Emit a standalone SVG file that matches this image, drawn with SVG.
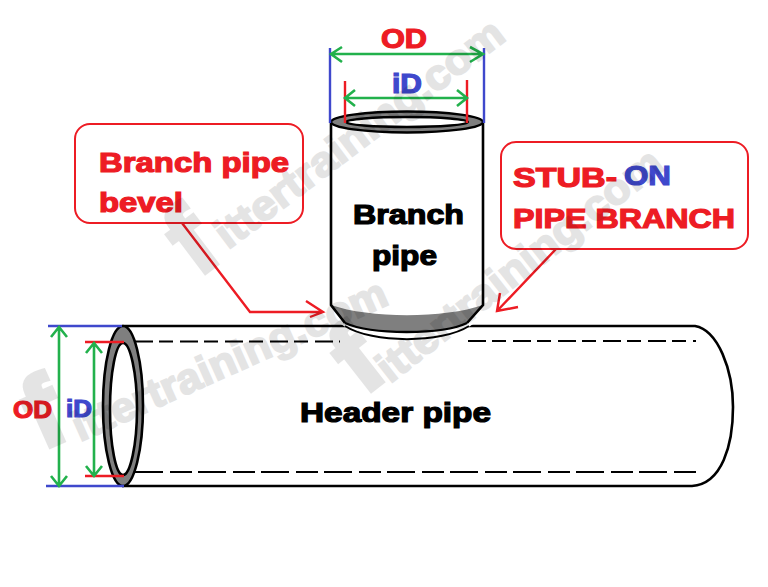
<svg xmlns="http://www.w3.org/2000/svg" width="768" height="587" viewBox="0 0 768 587">
<defs>
<style>
text{font-family:"Liberation Sans",Arial,sans-serif;font-weight:bold}
.wm{fill:#000;stroke:#000;stroke-width:2;opacity:.1;font-size:42px}
.wmf{fill:#000;stroke:#000;stroke-width:5;opacity:.1;font-size:100px}
.r{fill:#ed1c24;stroke:#ed1c24;stroke-width:1.2}
.b{fill:#3f48cc;stroke:#3f48cc;stroke-width:1.2}
.k{fill:#000;stroke:#000;stroke-width:1.2}
.pipe{fill:none;stroke:#000;stroke-width:2.6}
.dash{fill:none;stroke:#000;stroke-width:2}
.g{fill:none;stroke:#22b14c;stroke-width:2.6}
.rl{fill:none;stroke:#ed1c24;stroke-width:2.4}
.bl{fill:none;stroke:#3f48cc;stroke-width:2.4}
.box{fill:#fff;stroke:#ed1c24;stroke-width:2}
</style>
</defs>
<rect width="768" height="587" fill="#fff"/>
<g id="header-pipe">
<path class="pipe" d="M122 326H695C718 330 733 370 733 407C733 445 722 484 692 486H122"/>
<path class="dash" d="M135 341.500H340M468 341H696" stroke-dasharray="18 6 14 7"/>
<path class="dash" d="M135 472H696" stroke-dasharray="28 7 22 6"/>
<path d="M123 326C112 326 103 362 103 406C103 450 112 486 123 486C134 486 143 450 143 406C143 362 134 326 123 326ZM123 343C130 343 137 372 137 409C137 446 130 475 123 475C116 475 110 446 110 409C110 372 116 343 123 343Z" fill="#7f7f7f" fill-rule="evenodd" stroke="#000" stroke-width="2.600"/>
<text class="k" x="300" y="422" font-size="27" textLength="191" lengthAdjust="spacingAndGlyphs">Header pipe</text>
</g>
<g id="branch-pipe">
<path d="M345 325C372 344 442 344 469 325Z" fill="#fff" stroke="#fff" stroke-width="3"/>
<path d="M345 326C372 343.500 442 343.500 469 326" fill="none" stroke="#000" stroke-width="2"/>
<path d="M331 305L345 323C372 335 442 335 467 323L483 305C445 318.500 369 318.500 331 305Z" fill="#7f7f7f"/>
<path d="M345 323C372 335 442 335 467 323" fill="none" stroke="#000" stroke-width="2.400"/>
<path class="pipe" d="M331 122V305L345 323M483 122V305L467 323"/>
<ellipse cx="407" cy="122" rx="76" ry="10.500" fill="#7f7f7f" stroke="#000" stroke-width="2.400"/>
<ellipse cx="407" cy="122" rx="61" ry="5" fill="#fff" stroke="#000" stroke-width="2.400"/>
<text class="k" x="353" y="224" font-size="27" textLength="111" lengthAdjust="spacingAndGlyphs">Branch</text>
<text class="k" x="372" y="265" font-size="27" textLength="65" lengthAdjust="spacingAndGlyphs">pipe</text>
</g>
<g id="connectors">
<path class="bl" d="M330 48V123M484 48V123"/>
<path class="rl" d="M345 81V123M467 80V123"/>
<path class="g" d="M331 54H483M342 47L331 54L342 62M470 47L483 54L470 62"/>
<path class="g" d="M345 98H467M355 90L345 98L355 106M457 90L467 98L457 106"/>
<path class="bl" d="M48 326H122M46 486H124"/>
<path class="rl" d="M85 342H124M85 476H124"/>
<path class="g" d="M59 327V486M51 337L59 327L67 337M51 476L59 486L67 476"/>
<path class="g" d="M94 343V476M86 353L94 343L102 353M86 466L94 476L102 466"/>
<path class="rl" d="M182 223L250 312H323M306 301L323 312L310 317"/>
<path class="rl" d="M556 249L497 311M500 293L497 311L518 307"/>
</g>
<g id="label-bevel">
<rect class="box" x="75" y="124" width="228" height="99" rx="15"/>
<text class="r" x="99" y="172" font-size="27" textLength="190" lengthAdjust="spacingAndGlyphs">Branch pipe</text>
<text class="r" x="99" y="212" font-size="27" textLength="84" lengthAdjust="spacingAndGlyphs">bevel</text>
</g>
<g id="label-stub">
<rect class="box" x="501" y="142" width="247" height="107" rx="15"/>
<text class="r" x="513" y="187" font-size="27" textLength="104" lengthAdjust="spacingAndGlyphs">STUB-</text>
<text class="b" x="624" y="185" font-size="28" textLength="47" lengthAdjust="spacingAndGlyphs">ON</text>
<text class="r" x="513" y="228" font-size="27" textLength="222" lengthAdjust="spacingAndGlyphs">PIPE BRANCH</text>
</g>
<g id="dim-labels">
<text class="r" x="381" y="48" font-size="27" textLength="46" lengthAdjust="spacingAndGlyphs">OD</text>
<text class="b" x="392" y="93" font-size="27" textLength="30" lengthAdjust="spacingAndGlyphs">iD</text>
<text class="r" x="13" y="418" font-size="24" textLength="39" lengthAdjust="spacingAndGlyphs">OD</text>
<text class="b" x="66" y="417" font-size="24" textLength="26" lengthAdjust="spacingAndGlyphs">iD</text>
</g>
<g id="watermark">
<text class="wmf" transform="translate(198 278) rotate(-37)">f</text>
<text class="wm" transform="translate(228 250) rotate(-37)" textLength="350" lengthAdjust="spacingAndGlyphs">ittertraining.com</text>
<text class="wmf" transform="translate(364 396) rotate(-38)">f</text>
<text class="wm" transform="translate(390 384) rotate(-38)" textLength="350" lengthAdjust="spacingAndGlyphs">ittertraining.com</text>
<text class="wmf" transform="translate(42 450) rotate(-24)">f</text>
<text class="wm" transform="translate(80 442) rotate(-24)" textLength="340" lengthAdjust="spacingAndGlyphs">ittertraining.com</text>
</g>
</svg>
